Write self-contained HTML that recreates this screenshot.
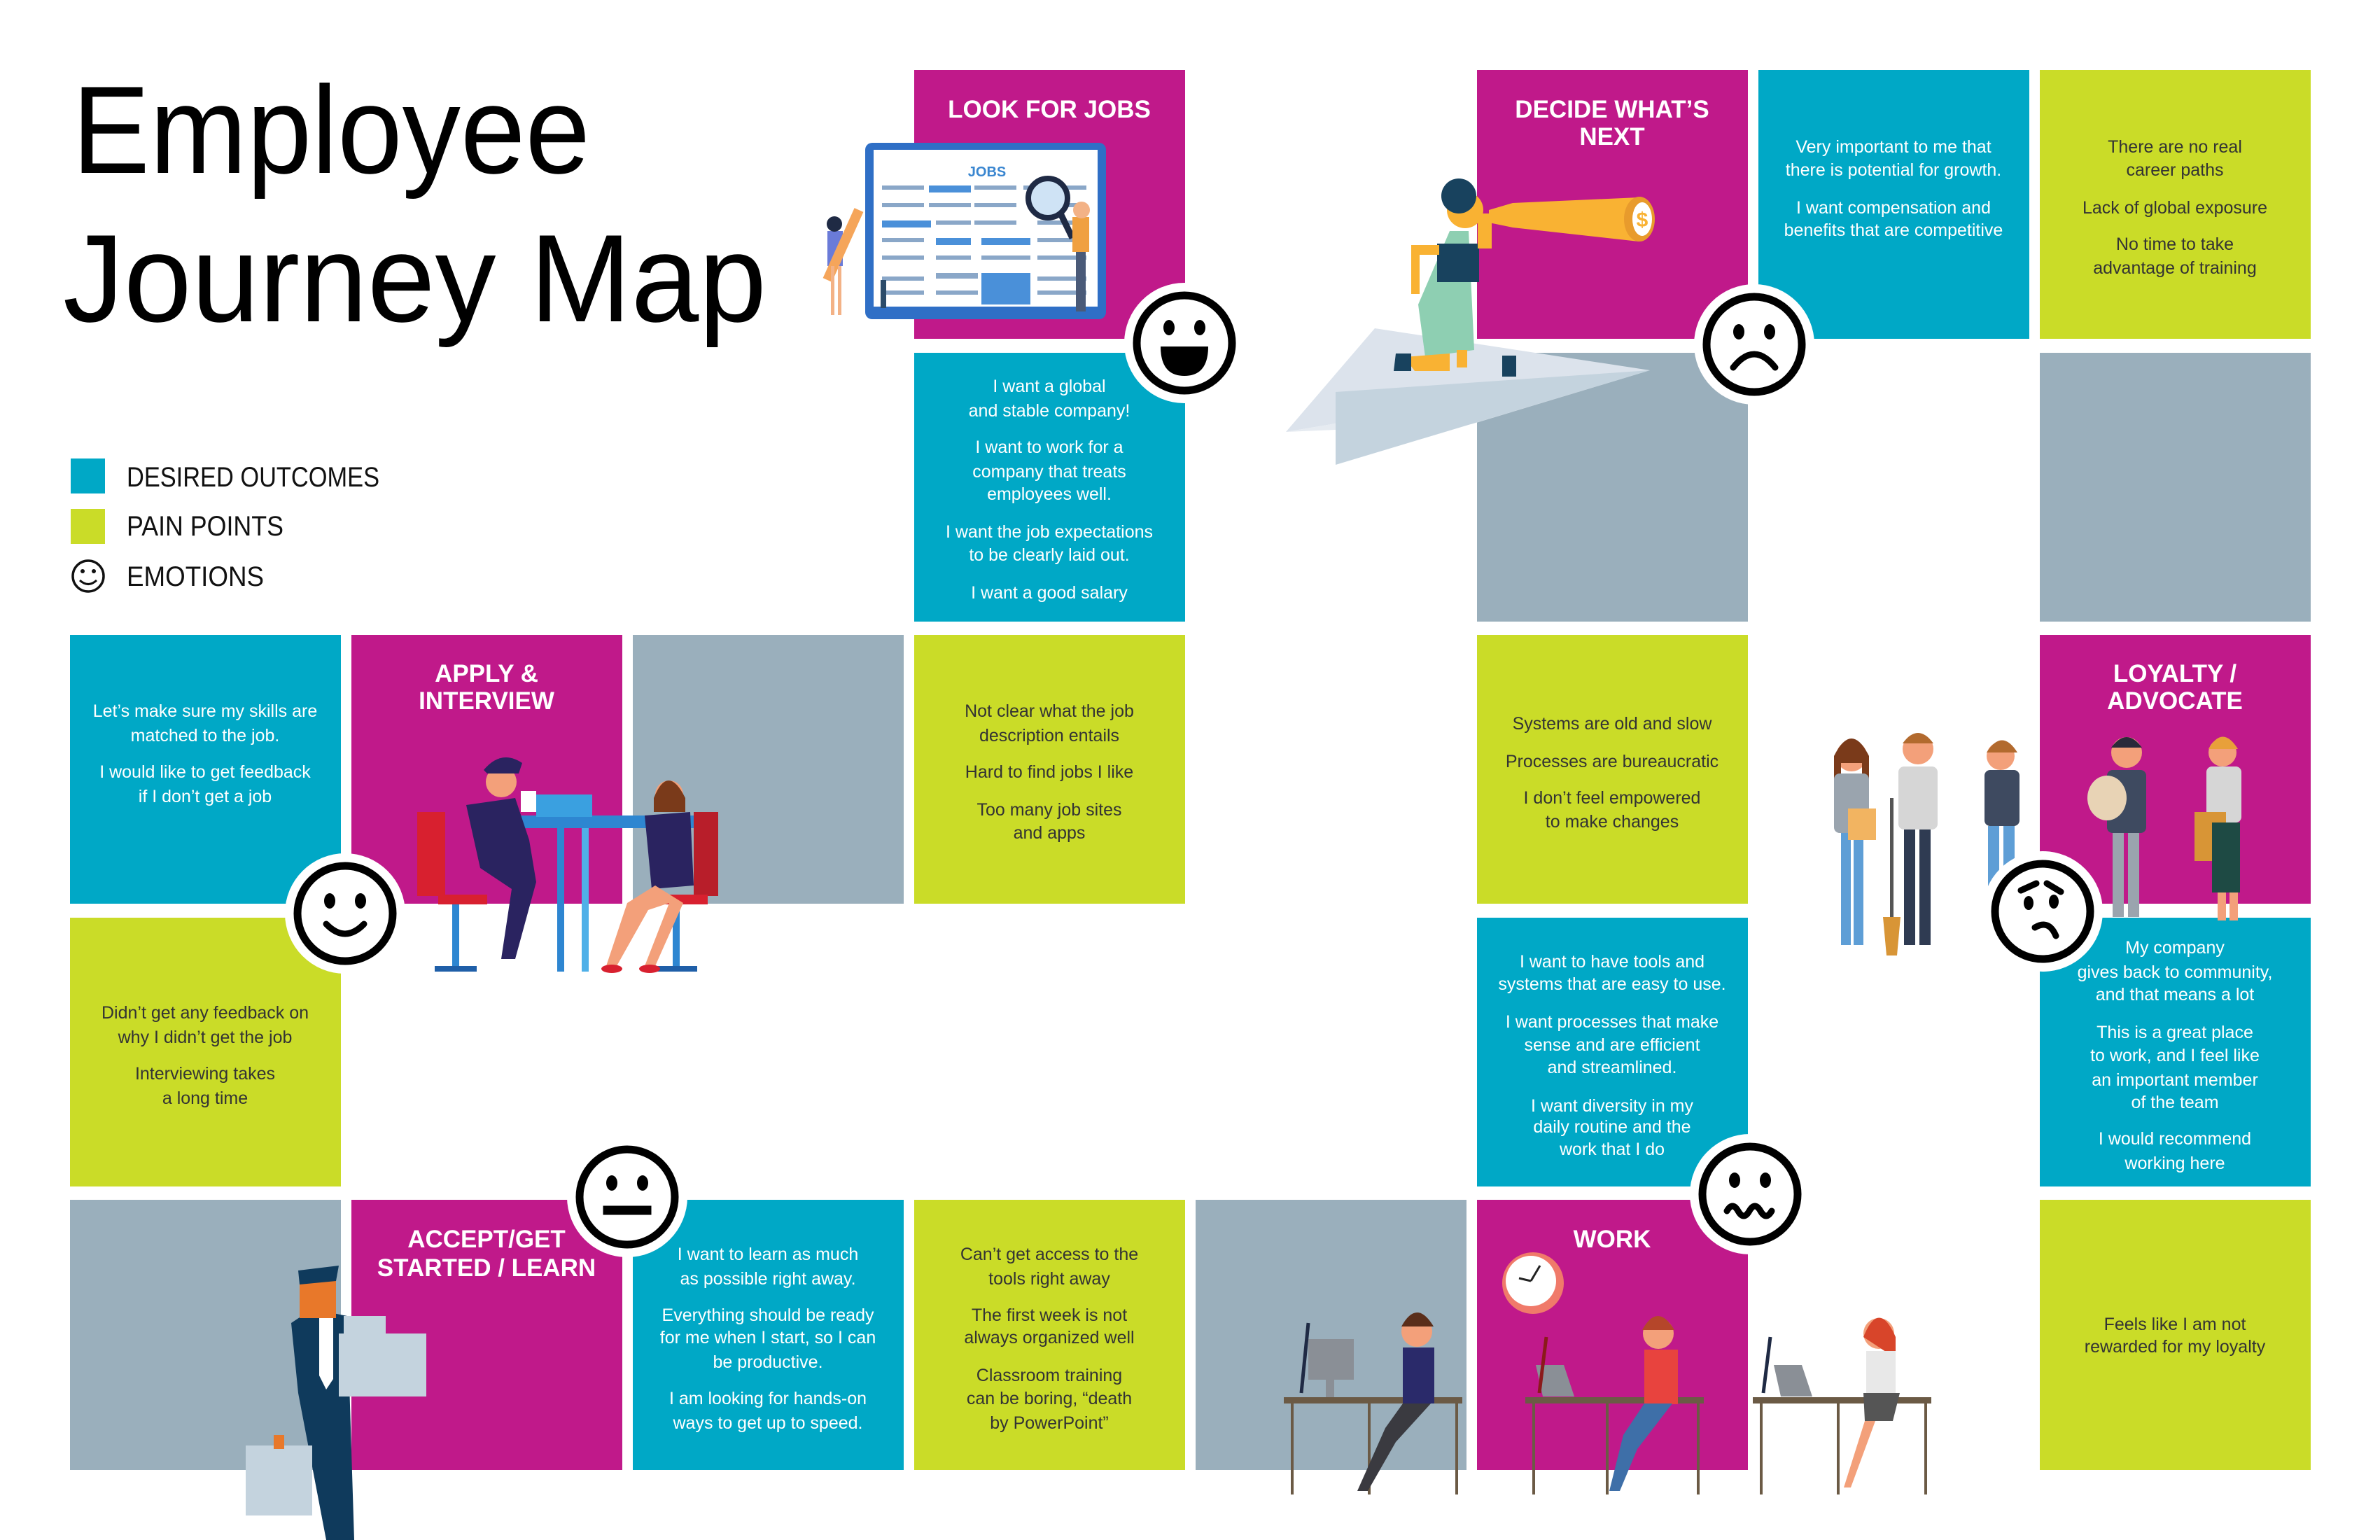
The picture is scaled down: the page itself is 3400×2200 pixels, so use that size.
<!DOCTYPE html>
<html><head><meta charset="utf-8"><style>
html,body{margin:0;padding:0;background:#fff}
svg{display:block}
.b{font-family:"Liberation Sans",sans-serif;font-size:25px;text-anchor:middle;fill:#fff}
.g{font-family:"Liberation Sans",sans-serif;font-size:25px;text-anchor:middle;fill:#333}
.h{font-family:"Liberation Sans",sans-serif;font-size:35px;font-weight:bold;text-anchor:middle;fill:#fff}
.l{font-family:"Liberation Sans",sans-serif;font-size:40px;fill:#111}
</style></head><body>
<svg width="3400" height="2200" viewBox="0 0 3400 2200" xmlns="http://www.w3.org/2000/svg">
<rect width="3400" height="2200" fill="#fff"/>
<g>
<rect x="1306" y="100" width="387" height="384" fill="#C0198A"/>
<rect x="2110" y="100" width="387" height="384" fill="#C0198A"/>
<rect x="2512" y="100" width="387" height="384" fill="#00A8C6"/>
<rect x="2914" y="100" width="387" height="384" fill="#CADC28"/>

<rect x="1306" y="504" width="387" height="384" fill="#00A8C6"/>
<rect x="2110" y="504" width="387" height="384" fill="#9AAFBC"/>
<rect x="2914" y="504" width="387" height="384" fill="#9AAFBC"/>

<rect x="100" y="907" width="387" height="384" fill="#00A8C6"/>
<rect x="502" y="907" width="387" height="384" fill="#C0198A"/>
<rect x="904" y="907" width="387" height="384" fill="#9AAFBC"/>
<rect x="1306" y="907" width="387" height="384" fill="#CADC28"/>
<rect x="2110" y="907" width="387" height="384" fill="#CADC28"/>
<rect x="2914" y="907" width="387" height="384" fill="#C0198A"/>

<rect x="100" y="1311" width="387" height="384" fill="#CADC28"/>
<rect x="2110" y="1311" width="387" height="384" fill="#00A8C6"/>
<rect x="2914" y="1311" width="387" height="384" fill="#00A8C6"/>

<rect x="100" y="1714" width="387" height="386" fill="#9AAFBC"/>
<rect x="502" y="1714" width="387" height="386" fill="#C0198A"/>
<rect x="904" y="1714" width="387" height="386" fill="#00A8C6"/>
<rect x="1306" y="1714" width="387" height="386" fill="#CADC28"/>
<rect x="1708" y="1714" width="387" height="386" fill="#9AAFBC"/>
<rect x="2110" y="1714" width="387" height="386" fill="#C0198A"/>
<rect x="2914" y="1714" width="387" height="386" fill="#CADC28"/>
</g>

<!-- Title -->
<text x="103" y="247" font-family="Liberation Sans,sans-serif" font-size="178" fill="#000" textLength="740" lengthAdjust="spacingAndGlyphs">Employee</text>
<text x="90" y="459" font-family="Liberation Sans,sans-serif" font-size="178" fill="#000" textLength="1005" lengthAdjust="spacingAndGlyphs">Journey Map</text>

<!-- Legend -->
<rect x="101" y="655" width="49" height="50" fill="#00A8C6"/>
<rect x="101" y="727" width="49" height="50" fill="#CADC28"/>
<circle cx="126" cy="823" r="22" fill="none" stroke="#111" stroke-width="3.5"/>
<circle cx="118" cy="816" r="3" fill="#111"/><circle cx="134" cy="816" r="3" fill="#111"/>
<path d="M114 829 Q126 840 138 829" fill="none" stroke="#111" stroke-width="3"/>
<text class="l" x="181" y="695" textLength="361" lengthAdjust="spacingAndGlyphs">DESIRED OUTCOMES</text>
<text class="l" x="181" y="765" textLength="224" lengthAdjust="spacingAndGlyphs">PAIN POINTS</text>
<text class="l" x="181" y="837" textLength="196" lengthAdjust="spacingAndGlyphs">EMOTIONS</text>

<!-- Headers -->
<text class="h" x="1499" y="168">LOOK FOR JOBS</text>
<text class="h" x="2303" y="168">DECIDE WHAT’S</text>
<text class="h" x="2303" y="207">NEXT</text>
<text class="h" x="695" y="974">APPLY &amp;</text>
<text class="h" x="695" y="1013">INTERVIEW</text>
<text class="h" x="3107" y="974">LOYALTY /</text>
<text class="h" x="3107" y="1013">ADVOCATE</text>
<text class="h" x="695" y="1782">ACCEPT/GET</text>
<text class="h" x="695" y="1823">STARTED / LEARN</text>
<text class="h" x="2303" y="1782">WORK</text>

<!-- Body texts -->
<g>
<text class="b" x="2705" y="218">Very important to me that</text>
<text class="b" x="2705" y="251">there is potential for growth.</text>
<text class="b" x="2705" y="305">I want compensation and</text>
<text class="b" x="2705" y="337">benefits that are competitive</text>

<text class="b" x="1499" y="560">I want a global</text>
<text class="b" x="1499" y="595">and stable company!</text>
<text class="b" x="1499" y="647">I want to work for a</text>
<text class="b" x="1499" y="682">company that treats</text>
<text class="b" x="1499" y="714">employees well.</text>
<text class="b" x="1499" y="768">I want the job expectations</text>
<text class="b" x="1499" y="801">to be clearly laid out.</text>
<text class="b" x="1499" y="855">I want a good salary</text>

<text class="b" x="293" y="1024">Let’s make sure my skills are</text>
<text class="b" x="293" y="1059">matched to the job.</text>
<text class="b" x="293" y="1111">I would like to get feedback</text>
<text class="b" x="293" y="1146">if I don’t get a job</text>

<text class="b" x="2303" y="1382">I want to have tools and</text>
<text class="b" x="2303" y="1414">systems that are easy to use.</text>
<text class="b" x="2303" y="1468">I want processes that make</text>
<text class="b" x="2303" y="1501">sense and are efficient</text>
<text class="b" x="2303" y="1533">and streamlined.</text>
<text class="b" x="2303" y="1588">I want diversity in my</text>
<text class="b" x="2303" y="1618">daily routine and the</text>
<text class="b" x="2303" y="1650">work that I do</text>

<text class="b" x="3107" y="1362">My company</text>
<text class="b" x="3107" y="1397">gives back to community,</text>
<text class="b" x="3107" y="1429">and that means a lot</text>
<text class="b" x="3107" y="1483">This is a great place</text>
<text class="b" x="3107" y="1516">to work, and I feel like</text>
<text class="b" x="3107" y="1551">an important member</text>
<text class="b" x="3107" y="1583">of the team</text>
<text class="b" x="3107" y="1635">I would recommend</text>
<text class="b" x="3107" y="1670">working here</text>

<text class="b" x="1097" y="1800">I want to learn as much</text>
<text class="b" x="1097" y="1835">as possible right away.</text>
<text class="b" x="1097" y="1887">Everything should be ready</text>
<text class="b" x="1097" y="1919">for me when I start, so I can</text>
<text class="b" x="1097" y="1954">be productive.</text>
<text class="b" x="1097" y="2006">I am looking for hands-on</text>
<text class="b" x="1097" y="2041">ways to get up to speed.</text>
</g>
<g>
<text class="g" x="3107" y="218">There are no real</text>
<text class="g" x="3107" y="251">career paths</text>
<text class="g" x="3107" y="305">Lack of global exposure</text>
<text class="g" x="3107" y="357">No time to take</text>
<text class="g" x="3107" y="391">advantage of training</text>

<text class="g" x="1499" y="1024">Not clear what the job</text>
<text class="g" x="1499" y="1059">description entails</text>
<text class="g" x="1499" y="1111">Hard to find jobs I like</text>
<text class="g" x="1499" y="1165">Too many job sites</text>
<text class="g" x="1499" y="1198">and apps</text>

<text class="g" x="2303" y="1042">Systems are old and slow</text>
<text class="g" x="2303" y="1096">Processes are bureaucratic</text>
<text class="g" x="2303" y="1148">I don’t feel empowered</text>
<text class="g" x="2303" y="1182">to make changes</text>

<text class="g" x="293" y="1455">Didn’t get any feedback on</text>
<text class="g" x="293" y="1490">why I didn’t get the job</text>
<text class="g" x="293" y="1542">Interviewing takes</text>
<text class="g" x="293" y="1577">a long time</text>

<text class="g" x="1499" y="1800">Can’t get access to the</text>
<text class="g" x="1499" y="1835">tools right away</text>
<text class="g" x="1499" y="1887">The first week is not</text>
<text class="g" x="1499" y="1919">always organized well</text>
<text class="g" x="1499" y="1973">Classroom training</text>
<text class="g" x="1499" y="2006">can be boring, “death</text>
<text class="g" x="1499" y="2041">by PowerPoint”</text>

<text class="g" x="3107" y="1900">Feels like I am not</text>
<text class="g" x="3107" y="1932">rewarded for my loyalty</text>
</g>

<!-- Illustration: laptop jobs -->
<g transform="translate(-8,0)">
<rect x="1244" y="204" width="344" height="252" rx="10" fill="#2F6FC6"/>
<rect x="1256" y="214" width="320" height="224" fill="#fff"/>
<text x="1418" y="252" font-family="Liberation Sans,sans-serif" font-size="20" font-weight="bold" fill="#3A86D0" text-anchor="middle">JOBS</text>
<g fill="#8AA7C8">
<rect x="1268" y="265" width="60" height="6"/><rect x="1335" y="265" width="60" height="10" fill="#4A90D9"/><rect x="1400" y="265" width="60" height="6"/><rect x="1470" y="265" width="90" height="6"/>
<rect x="1268" y="290" width="60" height="6"/><rect x="1335" y="290" width="60" height="6"/><rect x="1400" y="290" width="60" height="6"/><rect x="1490" y="290" width="70" height="6"/>
<rect x="1268" y="315" width="70" height="10" fill="#4A90D9"/><rect x="1345" y="315" width="50" height="6"/><rect x="1400" y="315" width="60" height="6"/><rect x="1490" y="315" width="70" height="6"/>
<rect x="1268" y="340" width="60" height="6"/><rect x="1345" y="340" width="50" height="10" fill="#4A90D9"/><rect x="1410" y="340" width="70" height="10" fill="#4A90D9"/><rect x="1490" y="340" width="70" height="6"/>
<rect x="1268" y="365" width="60" height="6"/><rect x="1345" y="365" width="50" height="6"/><rect x="1410" y="365" width="70" height="6"/><rect x="1490" y="365" width="70" height="6"/>
<rect x="1268" y="395" width="60" height="6"/><rect x="1345" y="390" width="60" height="8"/><rect x="1410" y="390" width="70" height="45" fill="#4A90D9"/><rect x="1490" y="395" width="70" height="6"/>
<rect x="1268" y="415" width="60" height="6"/><rect x="1345" y="415" width="60" height="6"/><rect x="1490" y="415" width="70" height="6"/>
</g>
<circle cx="1505" cy="283" r="28" fill="#cfe3f5" stroke="#1F2A44" stroke-width="8"/>
<line x1="1523" y1="305" x2="1540" y2="340" stroke="#1F2A44" stroke-width="9"/>
<rect x="1266" y="400" width="8" height="40" fill="#2b4b6a"/>
<rect x="1540" y="310" width="24" height="50" fill="#F0A040"/>
<rect x="1545" y="360" width="14" height="85" fill="#4A5A78"/>
<circle cx="1553" cy="300" r="12" fill="#F3B286"/>
<rect x="1190" y="330" width="22" height="50" fill="#6A7BD8"/>
<line x1="1190" y1="400" x2="1235" y2="300" stroke="#F5A55A" stroke-width="14"/>
<circle cx="1200" cy="320" r="11" fill="#1F2A44"/>
<rect x="1195" y="380" width="5" height="70" fill="#F3B286"/><rect x="1205" y="380" width="5" height="70" fill="#F3B286"/>
</g>

<!-- Paper plane + woman with telescope -->
<g transform="translate(-4,0)">
<polygon points="1841,617 1968,469 2361,529" fill="#DCE3EC"/>
<polygon points="1841,617 2361,529 2106,606" fill="#E6EBF1"/>
<polygon points="1912,560 2361,529 1912,664" fill="#C4D3DE"/>
<polygon points="2030,435 2075,330 2102,330 2110,500 2040,510" fill="#8ECFB2"/>
<rect x="2057" y="348" width="60" height="55" fill="#18425E"/>
<rect x="2020" y="350" width="40" height="14" fill="#F9B233"/>
<rect x="2020" y="350" width="12" height="70" fill="#F9B233"/>
<rect x="2085" y="500" width="15" height="25" fill="#F9B233"/>
<polygon points="2010,510 2075,505 2075,530 2025,530" fill="#F9B233"/>
<polygon points="1998,505 2020,505 2020,530 1995,530" fill="#18425E"/>
<rect x="2150" y="508" width="20" height="30" fill="#18425E"/>
<circle cx="2097" cy="300" r="26" fill="#F9B233"/>
<circle cx="2088" cy="280" r="25" fill="#18425E"/>
<polygon points="2131,300 2165,290 2345,282 2345,345 2165,325 2131,318" fill="#F9B233"/>
<ellipse cx="2346" cy="313" rx="22" ry="32" fill="#E89B2C"/>
<ellipse cx="2350" cy="313" rx="14" ry="24" fill="#fff"/>
<text x="2350" y="324" font-family="Liberation Sans,sans-serif" font-size="30" font-weight="bold" fill="#F9B233" text-anchor="middle">$</text>
<rect x="2115" y="305" width="20" height="50" fill="#F9B233"/>
</g>

<!-- Interview -->
<g transform="translate(-4,0)">
<rect x="720" y="1165" width="285" height="18" fill="#2E86D1"/>
<rect x="800" y="1183" width="10" height="205" fill="#2E86D1"/><rect x="835" y="1183" width="10" height="205" fill="#4FB0E8"/>
<rect x="600" y="1160" width="40" height="120" fill="#D8202F"/>
<rect x="630" y="1278" width="70" height="14" fill="#D8202F"/>
<rect x="650" y="1292" width="10" height="90" fill="#2E86D1"/><rect x="625" y="1380" width="60" height="8" fill="#1F5FA8"/>
<rect x="995" y="1160" width="35" height="120" fill="#B81E2A"/>
<rect x="945" y="1278" width="70" height="14" fill="#D8202F"/>
<rect x="965" y="1292" width="10" height="90" fill="#2E86D1"/><rect x="940" y="1380" width="60" height="8" fill="#1F5FA8"/>
<rect x="770" y="1135" width="80" height="32" fill="#3AA0E0"/>
<circle cx="720" cy="1117" r="22" fill="#F3A07A"/>
<path d="M695 1100 q25 -30 55 -10 l-5 15 h-45z" fill="#2A2360"/>
<polygon points="670,1150 740,1140 760,1200 770,1260 740,1370 720,1370 735,1270 690,1240" fill="#2A2360"/>
<rect x="748" y="1130" width="22" height="30" fill="#fff"/>
<circle cx="960" cy="1135" r="20" fill="#F3A07A"/>
<path d="M938 1140 q20 -50 45 0 v20 h-45z" fill="#7A3A1A"/>
<polygon points="925,1165 990,1160 995,1265 935,1270" fill="#2A2360"/>
<polygon points="940,1265 900,1290 870,1380 885,1380 930,1300 960,1290 925,1380 940,1380 980,1290" fill="#F3A07A"/>
<ellipse cx="878" cy="1384" rx="15" ry="6" fill="#D8202F"/><ellipse cx="932" cy="1384" rx="15" ry="6" fill="#D8202F"/>
</g>

<!-- Man with box -->
<g transform="translate(-4,0)">
<polygon points="450,1870 500,1880 510,2200 470,2200 430,1990 420,1890" fill="#0F3A5C"/>
<polygon points="460,1880 480,1880 480,1970 470,1985 460,1965" fill="#fff"/>
<rect x="432" y="1828" width="52" height="55" fill="#E8782A"/>
<polygon points="430,1815 488,1808 484,1830 432,1835" fill="#0F3A5C"/>
<rect x="488" y="1905" width="125" height="90" fill="#C4D3DE"/>
<rect x="495" y="1880" width="60" height="30" fill="#C4D3DE"/>
<rect x="355" y="2065" width="95" height="100" fill="#C4D3DE"/>
<rect x="395" y="2050" width="15" height="20" fill="#E8782A"/>
</g>

<!-- Loyalty group -->
<g transform="translate(-10,0)">
<g><circle cx="2655" cy="1080" r="22" fill="#F3A07A"/><path d="M2630 1080 q25 -50 50 0 v40 h-10 v-30 h-30 v30 h-10z" fill="#7A3A1A"/><rect x="2630" y="1105" width="50" height="85" rx="8" fill="#9AA4AE"/><rect x="2640" y="1190" width="14" height="160" fill="#5E9ED6"/><rect x="2658" y="1190" width="14" height="160" fill="#5E9ED6"/><rect x="2650" y="1155" width="40" height="45" fill="#F2B461"/></g>
<g><circle cx="2750" cy="1070" r="22" fill="#F3A07A"/><path d="M2728 1062 q22 -30 44 0z" fill="#B26A2E"/><rect x="2722" y="1095" width="56" height="90" rx="8" fill="#D6D6D6"/><rect x="2730" y="1185" width="16" height="165" fill="#2F3B52"/><rect x="2752" y="1185" width="16" height="165" fill="#2F3B52"/><rect x="2710" y="1140" width="5" height="170" fill="#555"/><polygon points="2700,1310 2725,1310 2720,1365 2705,1365" fill="#D89536"/></g>
<g><circle cx="2868" cy="1080" r="20" fill="#F3A07A"/><path d="M2848 1075 q22 -35 44 0z" fill="#B26A2E"/><rect x="2845" y="1100" width="50" height="80" rx="8" fill="#3E4A60"/><rect x="2850" y="1180" width="16" height="130" fill="#5E9ED6"/><rect x="2872" y="1180" width="16" height="130" fill="#5E9ED6"/></g>
<g><circle cx="3048" cy="1075" r="22" fill="#F3A07A"/><path d="M3026 1068 q22 -30 44 0z" fill="#2A2A3A"/><rect x="3020" y="1100" width="56" height="90" rx="8" fill="#3E4A60"/><ellipse cx="3020" cy="1140" rx="28" ry="32" fill="#E8D3B5"/><rect x="3028" y="1190" width="16" height="120" fill="#9AA4AE"/><rect x="3050" y="1190" width="16" height="120" fill="#9AA4AE"/></g>
<g><circle cx="3185" cy="1075" r="20" fill="#F3A07A"/><path d="M3165 1070 q20 -35 42 0z" fill="#E8A03A"/><rect x="3162" y="1095" width="50" height="80" rx="8" fill="#D6D6D6"/><rect x="3145" y="1160" width="45" height="70" fill="#D89536"/><rect x="3170" y="1175" width="40" height="100" fill="#1E4A44"/><rect x="3178" y="1275" width="12" height="40" fill="#F3A07A"/><rect x="3195" y="1275" width="12" height="40" fill="#F3A07A"/></g>
</g>

<!-- Clock -->
<circle cx="2190" cy="1833" r="44" fill="#F07A6A"/><circle cx="2187" cy="1830" r="36" fill="#fff"/>
<line x1="2187" y1="1830" x2="2200" y2="1808" stroke="#222" stroke-width="3"/><line x1="2187" y1="1830" x2="2170" y2="1826" stroke="#222" stroke-width="3"/>

<!-- Desks -->
<g transform="translate(-6,0)">
<rect x="1840" y="1996" width="255" height="9" fill="#6B5A45"/>
<rect x="1850" y="2005" width="4" height="130" fill="#6B5A45"/><rect x="1960" y="2005" width="4" height="130" fill="#6B5A45"/><rect x="2085" y="2005" width="4" height="130" fill="#6B5A45"/>
<rect x="1875" y="1913" width="65" height="58" fill="#8A8F96"/><rect x="1900" y="1971" width="12" height="25" fill="#8A8F96"/>
<line x1="1865" y1="1990" x2="1875" y2="1890" stroke="#1F2A44" stroke-width="5"/>
<circle cx="2030" cy="1902" r="22" fill="#F3A07A"/><path d="M2008 1895 q22 -40 46 0z" fill="#5A2E1A"/>
<rect x="2010" y="1925" width="45" height="80" fill="#2A2A6A"/>
<polygon points="2010,2005 2050,2005 2000,2060 1960,2130 1945,2130 1985,2040" fill="#3A3A40"/>

<rect x="2185" y="1996" width="255" height="9" fill="#6B5A45"/>
<rect x="2195" y="2005" width="4" height="130" fill="#6B5A45"/><rect x="2300" y="2005" width="4" height="130" fill="#6B5A45"/><rect x="2430" y="2005" width="4" height="130" fill="#6B5A45"/>
<polygon points="2200,1950 2240,1950 2255,1995 2210,1995" fill="#8A8F96"/>
<line x1="2205" y1="1990" x2="2215" y2="1910" stroke="#8B1A1A" stroke-width="5"/>
<circle cx="2375" cy="1905" r="22" fill="#F3A07A"/><path d="M2352 1900 q22 -40 46 0z" fill="#B5462A"/>
<rect x="2355" y="1928" width="48" height="78" fill="#E8433E"/>
<polygon points="2355,2005 2395,2005 2345,2070 2320,2130 2305,2130 2325,2050" fill="#3E6FA8"/>

<rect x="2510" y="1996" width="255" height="9" fill="#6B5A45"/>
<rect x="2520" y="2005" width="4" height="130" fill="#6B5A45"/><rect x="2630" y="2005" width="4" height="130" fill="#6B5A45"/><rect x="2755" y="2005" width="4" height="130" fill="#6B5A45"/>
<polygon points="2540,1950 2580,1950 2595,1995 2550,1995" fill="#8A8F96"/>
<line x1="2525" y1="1990" x2="2535" y2="1910" stroke="#1F2A44" stroke-width="5"/>
<circle cx="2690" cy="1905" r="22" fill="#F3A07A"/><path d="M2668 1910 q22 -55 46 0 v25 h-8z" fill="#D8452A"/>
<rect x="2672" y="1930" width="42" height="60" fill="#E8E8E8"/>
<polygon points="2668,1990 2720,1990 2710,2030 2670,2030" fill="#555"/>
<polygon points="2670,2030 2685,2030 2650,2125 2640,2125" fill="#F3A07A"/>
</g>

<!-- Emotion faces -->
<g stroke="#000" stroke-width="11" fill="#fff">
<circle cx="1692" cy="490" r="86" stroke="none"/><circle cx="1692" cy="490" r="68"/>
<circle cx="2506" cy="492" r="86" stroke="none"/><circle cx="2506" cy="492" r="68"/>
<circle cx="493" cy="1305" r="86" stroke="none"/><circle cx="493" cy="1305" r="68"/>
<circle cx="896" cy="1710" r="86" stroke="none"/><circle cx="896" cy="1710" r="68"/>
<circle cx="2500" cy="1706" r="86" stroke="none"/><circle cx="2500" cy="1706" r="68"/>
<circle cx="2918" cy="1302" r="86" stroke="none"/><circle cx="2918" cy="1302" r="68"/>
</g>
<g fill="#000">
<ellipse cx="1670" cy="468" rx="8" ry="11"/><ellipse cx="1714" cy="468" rx="8" ry="11"/>
<path d="M1658 495 h68 q0 42 -34 42 q-34 0 -34 -42z"/>
<ellipse cx="2484" cy="474" rx="8" ry="11"/><ellipse cx="2528" cy="474" rx="8" ry="11"/>
<ellipse cx="471" cy="1287" rx="8" ry="11"/><ellipse cx="515" cy="1287" rx="8" ry="11"/>
<ellipse cx="874" cy="1690" rx="8" ry="11"/><ellipse cx="918" cy="1690" rx="8" ry="11"/>
<ellipse cx="2478" cy="1686" rx="8" ry="11"/><ellipse cx="2522" cy="1686" rx="8" ry="11"/>
<ellipse cx="2898" cy="1290" rx="7" ry="10"/><ellipse cx="2934" cy="1288" rx="7" ry="10"/>
</g>
<g fill="none" stroke="#000" stroke-width="9" stroke-linecap="round">
<path d="M2476 525 q30 -38 60 0"/>
<path d="M466 1320 q27 28 54 0"/>
<rect x="866" y="1727" width="60" height="4"/>
<path d="M2467 1730 q8 -14 16 0 t16 0 t16 0 t16 0"/>
<path d="M2887 1272 l22 -10 M2924 1262 l20 12"/>
<path d="M2907 1325 q20 -12 30 12"/>
</g>
</svg>
</body></html>
